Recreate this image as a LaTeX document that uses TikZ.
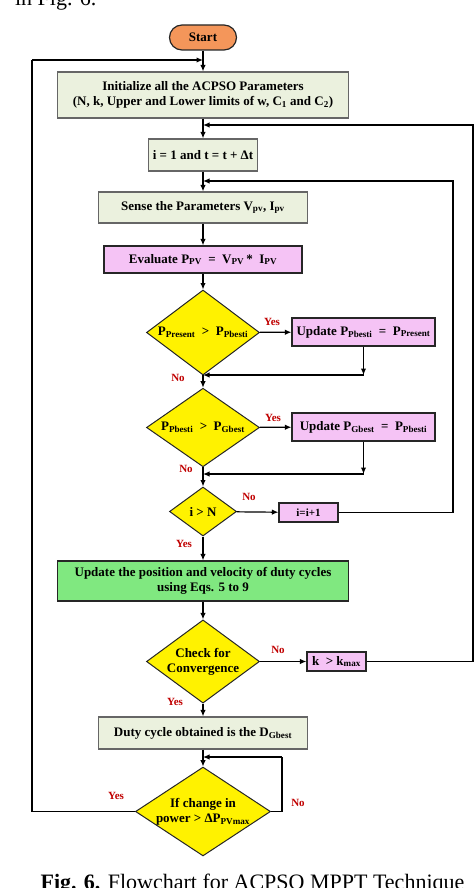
\documentclass[tikz,border=0pt]{standalone}
\usepackage{fontspec}
\setmainfont{Liberation Serif}
\usepackage{tikz}
\usetikzlibrary{arrows,arrows.meta,shapes.geometric}
\definecolor{startorange}{RGB}{244,150,90}
\definecolor{palegreen}{RGB}{235,241,222}
\definecolor{calcpink}{RGB}{245,195,245}
\definecolor{movegreen}{RGB}{128,232,128}
\definecolor{labelred}{RGB}{192,0,0}
\tikzset{box node/.style={rectangle,draw=black!75,line width=1.2pt,inner sep=0pt,align=center,
    font=\fontsize{13}{15}\selectfont\bfseries},
}

\begin{document}
\begin{tikzpicture}[x=1pt,y=-1pt,->,>={Latex[length=6.5pt,width=5.5pt]},line width=1.2pt,
		start node/.style={box node,fill=startorange,draw=black!85,rounded corners=12.5pt},
		init node/.style={box node,fill=palegreen,draw=black!60},
		calc node/.style={box node,fill=calcpink,draw=black!85},
		move node/.style={box node,fill=movegreen,draw=black!85},
		decision/.style={diamond,draw=black!85,fill=yellow,line width=1pt,inner sep=-4pt,align=center,
			font=\fontsize{13}{15}\selectfont\bfseries},
		lbl/.style={font=\fontsize{11}{12}\selectfont\bfseries,text=labelred,inner sep=0pt}]
		
		\useasboundingbox (0,0) rectangle (474,888);
		\clip (0,0) rectangle (474,888);
		
		% text of the page cut by the crop
		\node[anchor=base east,font=\fontsize{22}{26}\selectfont,inner sep=0pt] (prevline) at (97,6) {in Fig. 6.};
		\node[anchor=base west,font=\fontsize{22}{26}\selectfont,inner sep=0pt] (caption) at (40,889) {\textbf{Fig. 6.} Flowchart for ACPSO MPPT Technique};
		
		\node[start node,minimum width=67pt,minimum height=25pt] (start) at (203,37.5) {Start};
		\node[init node,minimum width=291pt,minimum height=46pt] (init) at (203,95)
			{Initialize all the ACPSO Parameters\\(N, k, Upper and Lower limits of w, C\textsubscript{1} and C\textsubscript{2})};
		\node[init node,minimum width=109pt,minimum height=32pt] (ione) at (203,155) {i = 1 and t = t + Δt};
		\node[init node,minimum width=209pt,minimum height=31pt] (sense) at (203,207.5) {Sense the Parameters V\textsubscript{pv}, I\textsubscript{pv}};
		\node[calc node,minimum width=198pt,minimum height=27pt] (eval) at (203,259.5)
			{Evaluate P\textsubscript{PV} \ = \ V\textsubscript{PV}\,* \ I\textsubscript{PV}};
		\node[decision,minimum width=113pt,minimum height=71pt] (present) at (203,332.5) {P\textsubscript{Present} \ > \ P\textsubscript{Pbesti}};
		\node[calc node,minimum width=143pt,minimum height=28pt] (updbest) at (363.5,332) {Update P\textsubscript{Pbesti} \ = \ P\textsubscript{Present}};
		\node[decision,minimum width=113pt,minimum height=71pt] (pbest) at (203,427.5) {P\textsubscript{Pbesti} \ > \ P\textsubscript{Gbest}};
		\node[calc node,minimum width=143pt,minimum height=28pt] (updgbest) at (363.5,427) {Update P\textsubscript{Gbest} \ = \ P\textsubscript{Pbesti}};
		\node[decision,minimum width=67pt,minimum height=49pt] (iN) at (203,511.5) {i > N};
		\node[calc node,minimum width=59pt,minimum height=19pt,font=\fontsize{11}{13}\selectfont\bfseries] (incr) at (308.5,512.5) {i=i+1};
		\node[move node,minimum width=291pt,minimum height=40pt] (move) at (203,581)
			{Update the position and velocity of duty cycles\\using Eqs. 5 to 9};
		\node[decision,minimum width=113pt,minimum height=71pt] (conv) at (203,661.5) {Check for\\Convergence};
		\node[calc node,minimum width=59pt,minimum height=19pt] (kmax) at (336.5,661.5) {k \ > k\textsubscript{max}};
		\node[init node,minimum width=209pt,minimum height=32pt] (duty) at (203,733) {Duty cycle obtained is the D\textsubscript{Gbest}};
		\node[decision,minimum width=135pt,minimum height=85pt,inner sep=-8pt] (change) at (203,811.5)
			{If change in\\power > ΔP\textsubscript{PVmax}};
		
		% joints on the main line
		\coordinate (j0) at (203,60);
		\coordinate (j1) at (203,125);
		\coordinate (j2) at (203,181);
		\coordinate (j3) at (203,375);
		\coordinate (j4) at (203,474);
		\coordinate (j5) at (203,757);
		\coordinate (cbest) at (363.5,375);
		\coordinate (cgbest) at (363.5,474);
		\coordinate (outer) at (32,60);
		\coordinate (rloop) at (473,125);
		\coordinate (iloop) at (453,181);
		\coordinate (cloop) at (282,757);
		
		\draw (start) -- (init);
		\draw (init) -- (ione);
		\draw (ione) -- (sense);
		\draw (sense) -- (eval);
		\draw (eval) -- (present);
		\draw (present) -- (updbest);
		\draw (present) -- (pbest);
		\draw (updbest) -- (cbest);
		\draw (cbest) -- (j3);
		\draw (pbest) -- (updgbest);
		\draw (pbest) -- (iN);
		\draw (updgbest) -- (cgbest);
		\draw (cgbest) -- (j4);
		\draw (iN) -- (incr);
		\draw (incr) -| (iloop) -- (j2);
		\draw (iN) -- (move);
		\draw (move) -- (conv);
		\draw (conv) -- (kmax);
		\draw (kmax) -| (rloop) -- (j1);
		\draw (conv) -- (duty);
		\draw (duty) -- (change);
		\draw[-] (change.east) -| (cloop);
		\draw (cloop) -- (j5);
		\draw[-] (change.west) -| (outer);
		\draw (outer) -- (j0);
		
		\node[lbl] (yesa) at (272,322) {Yes};
		\node[lbl] (noa) at (178,378) {No};
		\node[lbl] (yesb) at (273,418) {Yes};
		\node[lbl] (nob) at (186,469) {No};
		\node[lbl] (noc) at (249,497) {No};
		\node[lbl] (yesc) at (184,544) {Yes};
		\node[lbl] (nod) at (278,650) {No};
		\node[lbl] (yesd) at (175,702) {Yes};
		\node[lbl] (yese) at (116,796) {Yes};
		\node[lbl] (noe) at (298,803) {No};
		
		\end{tikzpicture}
\end{document}
